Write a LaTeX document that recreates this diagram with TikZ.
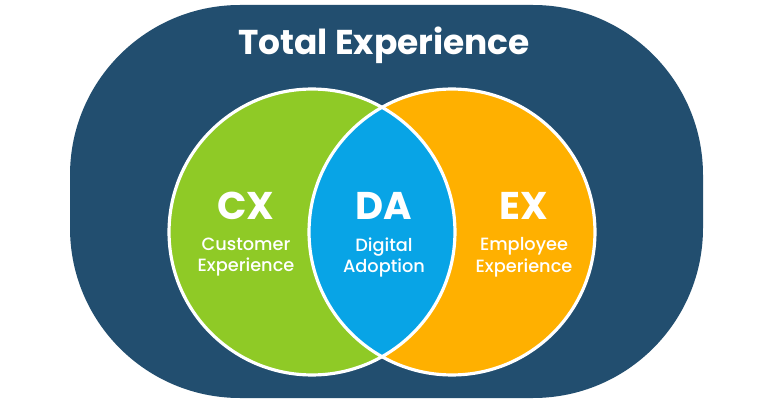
\documentclass[tikz,border=0pt]{standalone}
\usepackage{fontspec}
\setmainfont{Poppins}
\newfontfamily\subfont{Poppins}[UprightFont=* Medium]
\usetikzlibrary{positioning}

\definecolor{navy}{HTML}{224E6F}
\definecolor{cxgreen}{HTML}{8FCA26}
\definecolor{exorange}{HTML}{FFB000}
\definecolor{dablue}{HTML}{08A4E6}

\begin{document}
\begin{tikzpicture}[x=0.02cm,y=-0.02cm,
                    ring/.style={circle, minimum size=5.72cm, inner sep=0pt},
                    head/.style={text=white, font=\bfseries\fontsize{22}{24}\selectfont, inner sep=0pt},
                    sub/.style={text=white, align=center, font=\subfont\fontsize{10.1}{12}\selectfont, inner sep=0pt}]
  \useasboundingbox[fill=white] (0,0) rectangle (768,402);
  % outer frame
  \fill[navy, rounded corners=3.4cm] (70,5) rectangle (703,398);
  \node[text=white, font=\bfseries\fontsize{19.6}{24}\selectfont] (TX) at (384,45) {Total Experience};
  % the two sets and their overlap
  \node[ring, fill=cxgreen] (CXC) at (312,232) {};
  \node[ring, fill=exorange] (EXC) at (452,232) {};
  \begin{scope}
    \clip (CXC.center) circle (2.86cm);
    \fill[dablue] (EXC.center) circle (2.86cm);
  \end{scope}
  \draw[white, line width=1.8pt] (CXC.center) circle (2.86cm) (EXC.center) circle (2.86cm);
  % labels
  \node[head] (CX) at (246,206) {CX};
  \node[head] (DA) at (384,206) {DA};
  \node[head] (EX) at (524,206) {EX};
  \node[sub, below=10pt of CX] (CXT) {Customer\\Experience};
  \node[sub, below=10pt of DA] (DAT) {Digital\\Adoption};
  \node[sub, below=10pt of EX] (EXT) {Employee\\Experience};
\end{tikzpicture}
\end{document}
